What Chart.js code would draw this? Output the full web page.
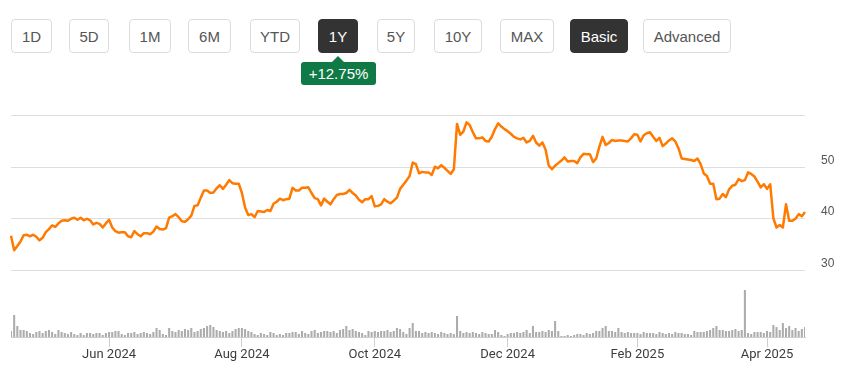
<!DOCTYPE html>
<html>
<head>
<meta charset="utf-8">
<script src="https://cdn.jsdelivr.net/npm/chart.js@4"></script>
<style>
  html, body { margin: 0; padding: 0; background: #fff; }
  body { width: 848px; height: 382px; position: relative; overflow: hidden; font-family: "Liberation Sans", Arial, sans-serif; }
  .btn { position: absolute; top: 19px; height: 34px; box-sizing: border-box; border: 1px solid #dcdcdc; border-radius: 4px;
         font-size: 15px; color: #555; display: flex; align-items: center; justify-content: center; background: #fff; }
  .btn.on { background: #333; border-color: #333; color: #fff; }
  .badge { position: absolute; left: 301px; top: 62px; width: 75px; height: 23px; background: #0f7a45; color: #fff;
           border-radius: 3px; font-size: 15px; display: flex; align-items: center; justify-content: center; }
  .badge:before { content: ""; position: absolute; left: 31px; top: -6px; border-left: 6px solid transparent;
           border-right: 6px solid transparent; border-bottom: 6px solid #0f7a45; }
  #wrap { position: absolute; left: 0; top: 100px; width: 848px; height: 282px; }
</style>
</head>
<body>
<div id="buttons"></div>
<div class="badge">+12.75%</div>
<div id="wrap"><canvas id="c" width="848" height="282"></canvas></div>
<script>
// ---- data ----
const rangeButtons = ["1D", "5D", "1M", "6M", "YTD", "1Y", "5Y", "10Y", "MAX", "Basic", "Advanced"];
const activeButtons = ["1Y", "Basic"];
const changeLabel = "+12.75%";

const prices = [
  36.7, 33.9, 34.7, 35.6, 36.8, 36.9, 36.6, 36.9, 36.5, 35.8,
  36.3, 37.4, 38.0, 38.7, 38.4, 39.1, 39.6, 39.7, 39.6, 40.0,
  40.2, 39.8, 40.2, 39.7, 40.0, 39.7, 38.9, 39.2, 39.0, 38.3,
  39.1, 39.8, 38.3, 37.6, 37.3, 37.4, 37.4, 36.6, 36.4, 37.6,
  37.0, 36.6, 37.2, 37.2, 37.0, 37.5, 38.5, 38.0, 37.9, 38.2,
  40.2, 40.5, 40.9, 40.3, 39.5, 39.4, 39.9, 40.6, 42.5, 42.6,
  44.1, 45.5, 45.5, 45.0, 45.1, 45.9, 46.5, 45.8, 46.6, 47.5,
  46.9, 46.8, 46.8, 45.0, 42.2, 40.7, 40.9, 40.3, 41.5, 41.4,
  41.3, 41.7, 41.5, 42.9, 43.3, 43.9, 43.6, 43.8, 43.9, 46.0,
  45.5, 45.5, 46.0, 46.0, 46.1, 45.0, 44.0, 43.8, 42.6, 43.9,
  43.3, 42.8, 43.8, 44.6, 44.8, 44.8, 45.0, 45.6, 45.0, 44.5,
  43.7, 43.2, 43.8, 43.8, 44.4, 42.4, 42.5, 42.8, 43.8, 43.3,
  43.0, 43.5, 44.1, 45.8, 46.6, 47.4, 48.3, 50.9, 50.6, 48.8,
  49.1, 49.0, 49.0, 48.5, 50.1, 49.8, 50.4, 49.9, 49.3, 48.7,
  49.6, 58.4, 56.3, 56.9, 58.7, 58.2, 56.8, 55.6, 55.6, 55.8,
  55.1, 55.0, 55.9, 57.4, 58.5, 57.9, 57.4, 57.0, 56.5, 55.9,
  55.6, 55.4, 55.7, 54.8, 55.1, 56.1, 54.8, 54.2, 54.8, 53.4,
  50.3, 49.6, 50.3, 50.8, 51.3, 51.9, 51.1, 51.2, 51.2, 50.8,
  51.9, 52.6, 52.5, 52.5, 51.0, 51.7, 54.0, 55.9, 54.3, 54.7,
  55.3, 55.1, 55.2, 55.2, 55.1, 55.0, 55.6, 56.4, 56.3, 55.0,
  56.2, 56.6, 56.8, 55.9, 55.1, 55.7, 54.1, 54.6, 55.2, 55.6,
  55.0, 53.7, 51.7, 51.6, 51.5, 51.4, 51.2, 51.7, 50.6, 48.8,
  48.3, 46.8, 46.8, 43.8, 43.9, 44.8, 44.2, 45.7, 46.4, 46.6,
  47.7, 47.3, 47.5, 49.0, 48.7, 48.2, 47.2, 46.1, 46.7, 45.8,
  46.7, 40.1, 38.3, 38.8, 38.3, 42.8, 39.6, 39.6, 40.0, 40.9,
  40.5, 41.3
];

const volumes = [
  6, 22, 11, 7, 7, 6, 4, 3, 5, 6,
  4, 6, 7, 5, 3, 7, 5, 4, 3, 5,
  3, 2, 4, 2, 4, 4, 3, 4, 4, 2,
  4, 5, 5, 6, 6, 3, 2, 4, 4, 5,
  3, 4, 5, 4, 3, 5, 9, 7, 3, 2,
  9, 6, 5, 7, 6, 8, 7, 9, 5, 6,
  8, 9, 11, 12, 10, 7, 6, 5, 6, 4,
  6, 8, 9, 9, 8, 6, 5, 3, 2, 4,
  3, 2, 5, 4, 2, 3, 2, 4, 4, 5,
  5, 3, 6, 4, 3, 6, 7, 4, 5, 6,
  6, 5, 6, 4, 7, 8, 11, 7, 8, 6,
  5, 4, 2, 6, 5, 6, 5, 6, 6, 7,
  5, 6, 9, 8, 5, 3, 9, 14, 6, 6,
  4, 5, 4, 5, 4, 3, 5, 4, 3, 4,
  3, 21, 6, 4, 5, 4, 5, 4, 3, 5,
  4, 3, 3, 7, 5, 2, 1, 3, 4, 4,
  5, 4, 5, 7, 4, 11, 5, 5, 6, 5,
  7, 6, 16, 6, 1, 1, 2, 1, 2, 3,
  3, 2, 4, 3, 4, 6, 6, 9, 11, 6,
  6, 5, 9, 5, 4, 5, 4, 4, 4, 3,
  5, 4, 4, 4, 3, 5, 4, 3, 4, 3,
  5, 4, 4, 3, 3, 2, 6, 5, 5, 5,
  6, 7, 9, 11, 7, 7, 6, 6, 7, 8,
  6, 7, 47, 4, 3, 5, 5, 5, 4, 6,
  5, 12, 10, 7, 14, 9, 11, 7, 9, 6,
  8, 10
];

// trading-day index of each month tick, and its label
const xTickIndex = [31, 73, 115, 157, 198, 239];
const xTickLabels = ["Jun 2024", "Aug 2024", "Oct 2024", "Dec 2024", "Feb 2025", "Apr 2025"];
const yTicks = [30, 40, 50, 60];
const yTickLabels = ["30", "40", "50", ""];

const tradingDays = prices.map((_, i) => i);

// ---- buttons ----
const btnLeft = [11, 69, 129, 188, 250, 318, 377, 434, 500, 570, 643];
const btnWidth = [41, 40, 42, 43, 50, 40, 38, 48, 54, 58, 88];
const host = document.getElementById("buttons");
rangeButtons.forEach((t, i) => {
  const d = document.createElement("div");
  d.className = "btn" + (activeButtons.includes(t) ? " on" : "");
  d.style.left = btnLeft[i] + "px";
  d.style.width = btnWidth[i] + "px";
  d.textContent = t;
  host.appendChild(d);
});
document.querySelector(".badge").textContent = changeLabel;

// ---- chart ----
new Chart(document.getElementById("c"), {
  type: "bar",
  data: {
    labels: tradingDays,
    datasets: [
      {
        type: "line", data: prices, yAxisID: "y", borderColor: "#ff7a00", borderWidth: 2.5,
        pointRadius: 0, tension: 0, order: 0, borderJoinStyle: "round"
      },
      {
        type: "bar", data: volumes, yAxisID: "yv", backgroundColor: "#acacac",
        barPercentage: 0.65, categoryPercentage: 1, order: 1
      }
    ]
  },
  options: {
    responsive: false,
    devicePixelRatio: 1,
    animation: false,
    layout: { padding: { left: 11, top: 15.7, right: 0, bottom: 0 } },
    plugins: { legend: { display: false }, tooltip: { enabled: false } },
    scales: {
      x: {
        type: "category",
        offset: false,
        afterBuildTicks: s => { s.ticks = xTickIndex.map(v => ({ value: v })); },
        afterFit: s => { s.height = 45; s.paddingLeft = 0; s.paddingRight = 0; },
        ticks: {
          autoSkip: false, maxRotation: 0, padding: 0, color: "#3d3d3d",
          font: { family: "Roboto", size: 13 },
          callback: (v, i) => xTickLabels[i]
        },
        grid: { offset: false, drawOnChartArea: false, drawTicks: true, tickLength: 10, color: "#cfcfcf" },
        border: { display: true, color: "#cfcfcf" }
      },
      y: {
        position: "right",
        min: 17.05, max: 60,
        afterBuildTicks: s => { s.ticks = yTicks.map(v => ({ value: v })); },
        afterFit: s => { s.width = 43; s.paddingTop = 0; s.paddingBottom = 0; },
        ticks: {
          padding: 16, labelOffset: -7, color: "#555",
          font: { family: "Liberation Sans", size: 12 },
          callback: (v, i) => yTickLabels[i]
        },
        grid: { color: "#dedede", drawTicks: false },
        border: { display: false }
      },
      yv: {
        display: false, min: 0, max: 221
      }
    }
  }
});
</script>
</body>
</html>
